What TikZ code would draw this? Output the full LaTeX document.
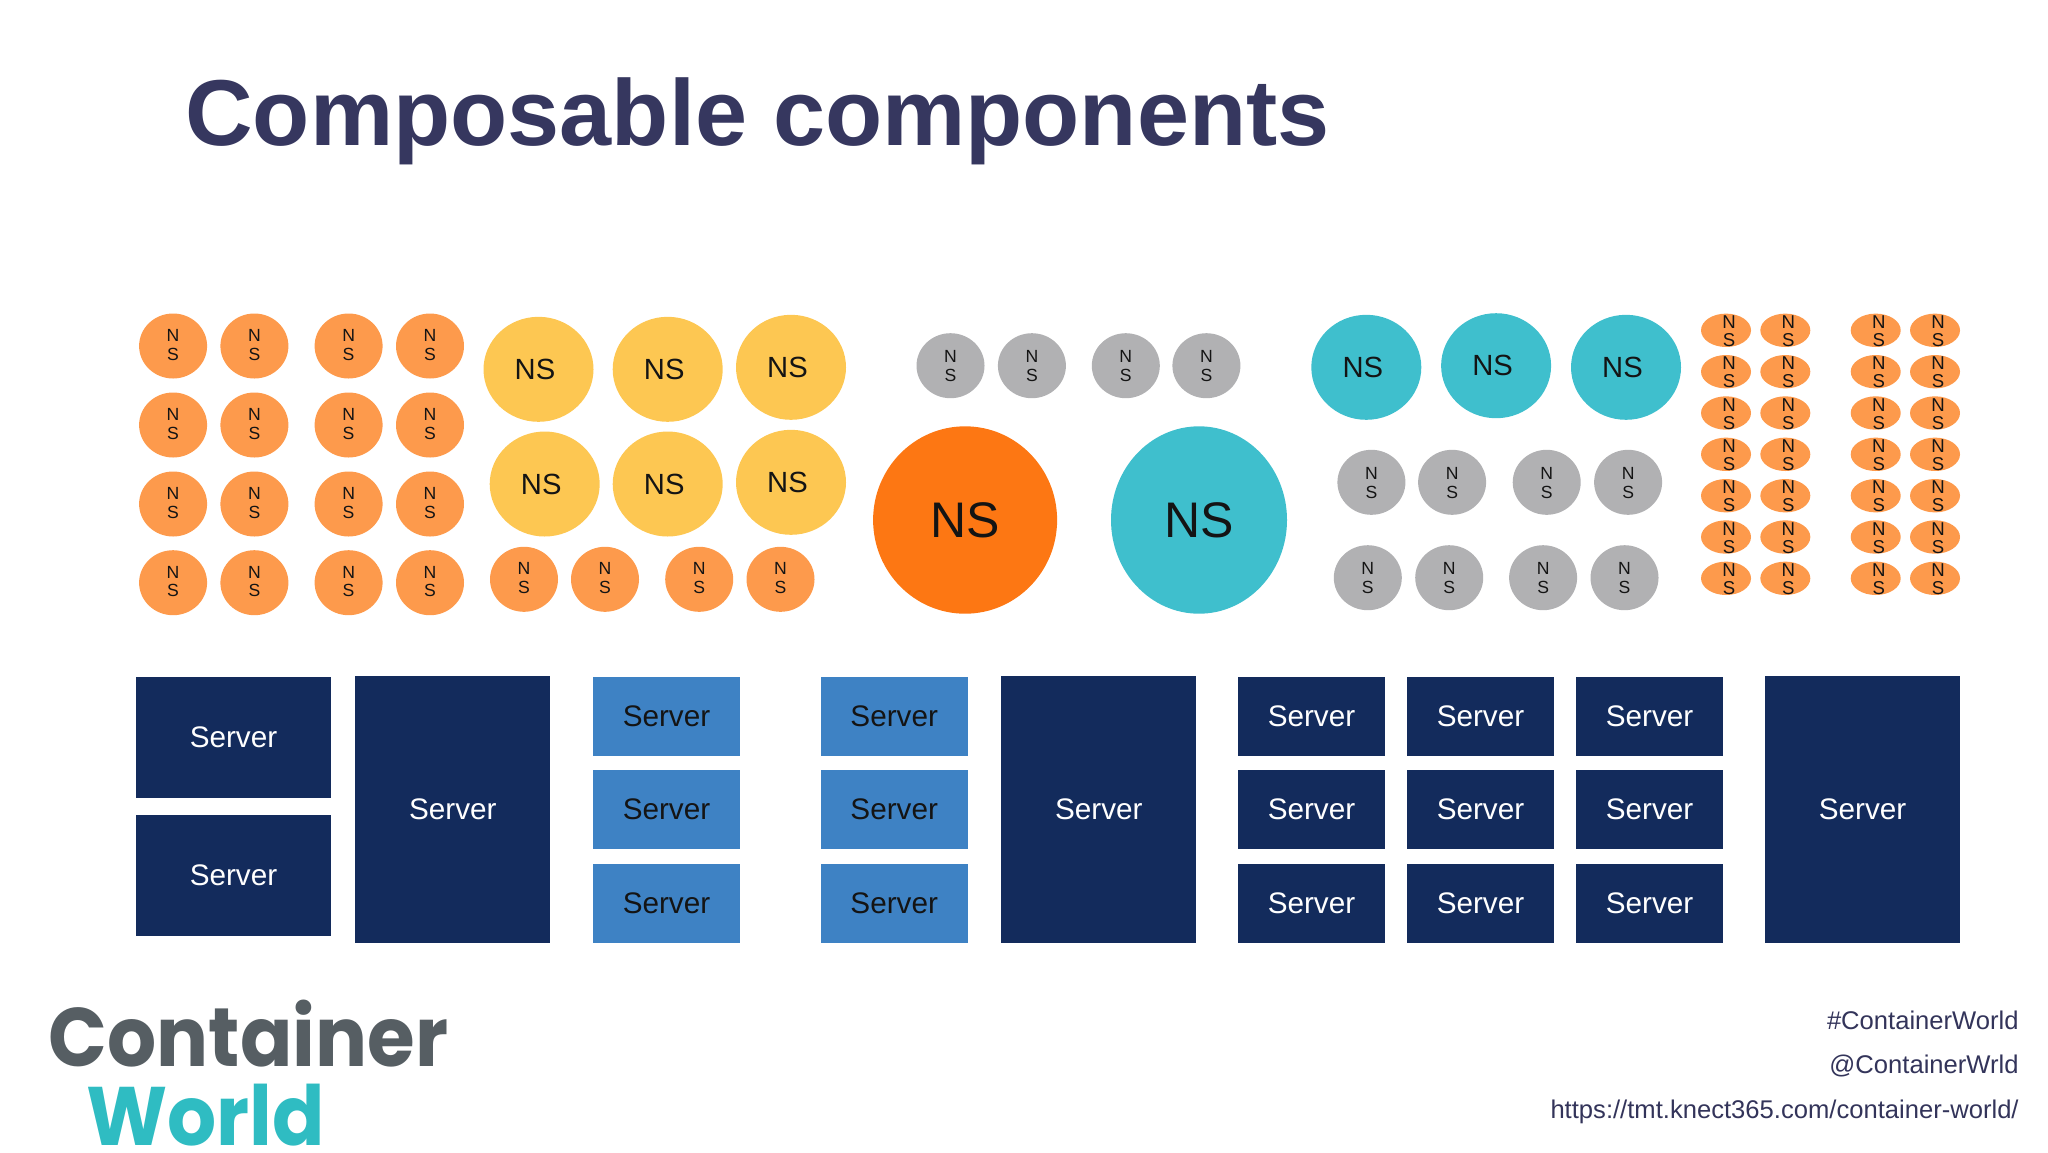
\documentclass[tikz,border=0pt]{standalone}
\usepackage{fontspec}
\setmainfont{Liberation Sans}
\newfontfamily\logofont{Poppins}
\usepackage{tikz}
\usetikzlibrary{shapes.geometric}

\definecolor{titleink}{HTML}{36375F}
\definecolor{footink}{HTML}{33345A}
\definecolor{softorange}{HTML}{FD9A4C}
\definecolor{hotorange}{HTML}{FD7713}
\definecolor{softyellow}{HTML}{FDC752}
\definecolor{softgray}{HTML}{B1B1B3}
\definecolor{softteal}{HTML}{3FBFCD}
\definecolor{darkserver}{HTML}{132B5C}
\definecolor{blueserver}{HTML}{3E82C4}
\definecolor{logogray}{HTML}{565E63}
\definecolor{logoteal}{HTML}{2FBCC2}

% two letters stacked over the centre of an ellipse, they may stick out of it
\newcommand{\nsStack}[2]{\makebox[0pt]{\raisebox{#1}[0pt][0pt]{N}}\makebox[0pt]{\raisebox{#2}[0pt][0pt]{S}}}
\newcommand{\midNS}{NS\kern3.5pt}

\tikzset{
  blob/.style={ellipse, inner sep=0pt, text=black!92},
  smallblob/.style={blob, minimum width=34pt, minimum height=32.5pt, font=\fontsize{8.8}{9}\selectfont},
  tinyblob/.style={blob, fill=softorange, minimum width=25pt, minimum height=16.7pt, font=\fontsize{9.3}{9.5}\selectfont},
  midblob/.style={blob, minimum width=55pt, minimum height=52.5pt, font=\fontsize{14.6}{15}\selectfont},
  bigblob/.style={blob, minimum height=93.7pt, font=\fontsize{25}{26}\selectfont},
  serverbox/.style={rectangle, inner sep=0pt, font=\fontsize{14.85}{15}\selectfont},
  darkbox/.style={serverbox, fill=darkserver, text=white},
  bluebox/.style={serverbox, fill=blueserver, text=black!92, minimum width=73.5pt},
  footer/.style={anchor=base east, inner sep=0pt, text=footink, font=\fontsize{12.8}{13}\selectfont},
  logotext/.style={anchor=base west, inner sep=0pt, font=\logofont\bfseries\fontsize{41.5}{42}\selectfont},
}

\begin{document}
\begin{tikzpicture}[x=0.5pt, y=-0.5pt]
  \useasboundingbox (0,0) rectangle (2048,1152);

  \node (title) [anchor=base west, inner sep=0pt, text=titleink, font=\fontsize{46.8}{48}\selectfont\bfseries] at (185,145.7) {Composable components};

  % orange block on the left
  \foreach \nx [count=\i] in {173.1,254.4,348.6,430}
    \foreach \ny [count=\j] in {346,425,504,582.7}
      \node (orangeL\i\j) [smallblob, fill=softorange] at (\nx,\ny) {\nsStack{2.2pt}{-7.1pt}};

  \node (yellowA) [midblob, fill=softyellow] at (538.5,369.3) {\midNS};
  \node (yellowB) [midblob, fill=softyellow] at (667.7,369.3) {\midNS};
  \node (yellowC) [midblob, fill=softyellow] at (791,367.3) {\midNS};
  \node (yellowD) [midblob, fill=softyellow] at (544.7,484) {\midNS};
  \node (yellowE) [midblob, fill=softyellow] at (667.7,484) {\midNS};
  \node (yellowF) [midblob, fill=softyellow] at (791,482.3) {\midNS};

  \foreach \nx [count=\i] in {524,605,699.2,780.5}
    \node (orangeM\i) [smallblob, fill=softorange] at (\nx,579.3) {\nsStack{2.2pt}{-7.1pt}};

  \foreach \nx [count=\i] in {950.5,1031.9,1125.8,1206.4}
    \node (grayT\i) [smallblob, fill=softgray] at (\nx,365.7) {\nsStack{1.5pt}{-8pt}};

  \node (bigOrange) [bigblob, fill=hotorange, minimum width=92pt] at (965.1,520) {NS};
  \node (bigTeal) [bigblob, fill=softteal, minimum width=88pt] at (1199,520) {NS};

  \node (tealA) [midblob, fill=softteal] at (1366.3,367.3) {\midNS};
  \node (tealB) [midblob, fill=softteal] at (1496.1,365.7) {\midNS};
  \node (tealC) [midblob, fill=softteal] at (1626,367.3) {\midNS};

  \foreach \nx [count=\i] in {1371.4,1452.1,1546.7,1628.1}
    \node (grayM\i) [smallblob, fill=softgray] at (\nx,482.3) {\nsStack{1.5pt}{-8pt}};
  \foreach \nx [count=\i] in {1367.8,1449.2,1543.1,1624.5}
    \node (grayB\i) [smallblob, fill=softgray] at (\nx,577.7) {\nsStack{1.5pt}{-8pt}};

  % squashed ones on the right
  \foreach \nx [count=\i] in {1726,1785.3,1875.7,1935}
    \foreach \ny [count=\j] in {330.3,371.7,413,454.3,495.7,537,578.3}
      \node (orangeR\i\j) [tinyblob] at (\nx,\ny) {\hspace{3pt}\nsStack{1pt}{-8.1pt}};

  % servers
  \node (srvA) [darkbox, minimum width=97.5pt, minimum height=60.5pt] at (233.5,737.2) {Server};
  \node (srvB) [darkbox, minimum width=97.5pt, minimum height=60.5pt] at (233.5,875.7) {Server};
  \node (srvC) [darkbox, minimum width=97.5pt, minimum height=133.5pt] at (452.8,809.5) {Server};

  \foreach \nx [count=\i] in {666.5,894.2}
    \foreach \ny/\nh [count=\j] in {716.3/39.7,809.5/39.5,903.3/39.7}
      \node (srvB\i\j) [bluebox, minimum height=\nh pt] at (\nx,\ny) {Server};

  \node (srvJ) [darkbox, minimum width=97.5pt, minimum height=133.5pt] at (1098.8,809.5) {Server};

  \foreach \nx [count=\i] in {1311.5,1480.5,1649.5}
    \foreach \ny/\nh [count=\j] in {716.3/39.7,809.5/39.5,903.3/39.7}
      \node (srvK\i\j) [darkbox, minimum width=73.5pt, minimum height=\nh pt] at (\nx,\ny) {Server};

  \node (srvL) [darkbox, minimum width=97.5pt, minimum height=133.5pt] at (1862.5,809.5) {Server};

  % logo and footer
  \node (logoTop) [logotext, text=logogray] at (48.5,1066) {\scalebox{0.93}[1]{Container}};
  \node (logoBottom) [logotext, text=logoteal] at (86,1145) {\scalebox{0.93}[1]{World}};

  \node (footA) [footer] at (2019,1029) {\#ContainerWorld};
  \node (footB) [footer] at (2019,1073.3) {@ContainerWrld};
  \node (footC) [footer] at (2019,1118.3) {https://tmt.knect365.com/container-world/};
\end{tikzpicture}
\end{document}
